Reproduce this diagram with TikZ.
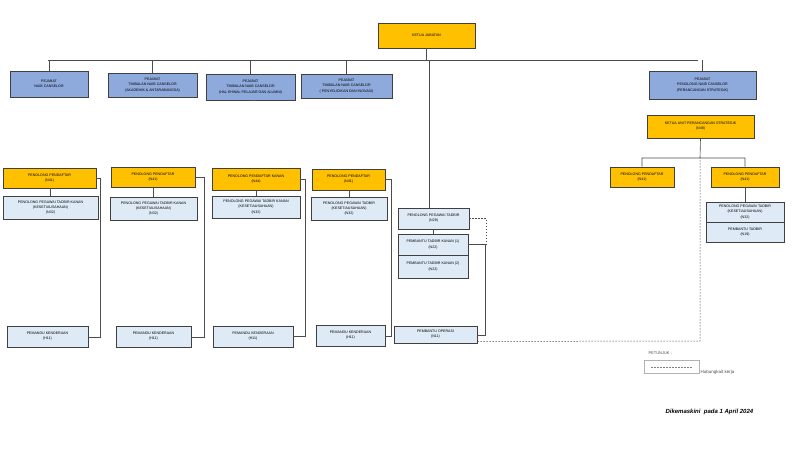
\documentclass[tikz,border=0pt]{standalone}
\usepackage{fontspec}
\setmainfont{Liberation Sans}
\begin{document}
\begin{tikzpicture}[x=1pt,y=-1pt,
 bx/.style={draw=black!75,line width=0.9pt,align=center,inner sep=0pt,font=\fontsize{3.6}{5.2}\selectfont},
 blu/.style={bx,fill={rgb,255:red,142;green,169;blue,219}},
 org/.style={bx,fill={rgb,255:red,255;green,192;blue,0}},
 lbl/.style={bx,fill={rgb,255:red,222;green,234;blue,246}},
 ln/.style={draw=black!70,line width=0.6pt},
 dsh/.style={draw=black!70,line width=0.5pt,dash pattern=on 1.5pt off 1.5pt}]
\useasboundingbox (0,0) rectangle (800,450);
\newcommand{\bxat}[6]{\node[#1,minimum width=#4-#2,minimum height=#5-#3] (#6) at ({(#2+#4)/2},{(#3+#5)/2})}
\bxat{org}{378}{23}{475}{48}{kj} {KETUA JABATAN};
\bxat{blu}{10}{71}{88}{97}{b1} {PEJABAT\\NAIB CANSELOR};
\bxat{blu}{108}{73}{197}{97}{b2} {PEJABAT\\TIMBALAN NAIB CANSELOR\\(AKADEMIK \& ANTARABANGSA)};
\bxat{blu}{206}{74}{295}{100}{b3} {PEJABAT\\TIMBALAN NAIB CANSELOR\\(HAL EHWAL PELAJAR DAN ALUMNI)};
\bxat{blu}{301}{74}{392}{98}{b4} {PEJABAT\\TIMBALAN NAIB CANSELOR\\( PENYELIDIKAN DAN INOVASI)};
\bxat{blu}{649}{71}{756}{99}{b5} {PEJABAT\\PENOLONG NAIB CANSELOR\\(PERANCANGAN STRATEGIK)};
\bxat{org}{647}{115}{754}{138}{ku} {KETUA UNIT PERANCANGAN STRATEGIK\\(N48)};
\bxat{org}{3}{168}{96}{188}{o1} {PENOLONG PENDAFTAR\\(N41)};
\bxat{org}{111}{167}{195}{187}{o2} {PENOLONG PENDAFTAR\\(N41)};
\bxat{org}{212}{168}{300}{190}{o3} {PENOLONG PENDAFTAR KANAN\\(N44)};
\bxat{org}{312}{169}{385}{190}{o4} {PENOLONG PENDAFTAR\\(N41)};
\bxat{org}{610}{167}{674}{187}{o5} {PENOLONG PENDAFTAR\\(N41)};
\bxat{org}{711}{167}{779}{187}{o6} {PENOLONG PENDAFTAR\\(N41)};
\bxat{lbl}{3}{196}{98}{219}{l1} {PENOLONG PEGAWAI TADBIR KANAN\\(KESETIAUSAHAAN)\\(N32)};
\bxat{lbl}{110}{197}{197}{220}{l2} {PENOLONG PEGAWAI TADBIR KANAN\\(KESETIAUSAHAAN)\\(N32)};
\bxat{lbl}{212}{196}{300}{218}{l3} {PENOLONG PEGAWAI TADBIR KANAN\\(KESETIAUSAHAAN)\\(N32)};
\bxat{lbl}{311}{197}{387}{220}{l4} {PENOLONG PEGAWAI TADBIR\\(KESETIAUSAHAAN)\\(N32)};
\bxat{lbl}{398}{208}{469}{229}{n29} {PENOLONG PEGAWAI TADBIR\\(N29)};
\bxat{lbl}{398}{234}{468}{255}{p1} {PEMBANTU TADBIR KANAN (1)\\(N22)};
\bxat{lbl}{398}{255}{468}{278}{p2} {PEMBANTU TADBIR KANAN (2)\\(N22)};
\bxat{lbl}{706}{202}{784}{222}{r1} {PENOLONG PEGAWAI TADBIR\\(KESETIAUSAHAAN)\\(N32)};
\bxat{lbl}{706}{222}{784}{242}{r2} {PEMBANTU TADBIR\\(N19)};
\bxat{lbl}{7}{326}{88}{347}{d1} {PEMANDU KENDERAAN\\(H11)};
\bxat{lbl}{116}{326}{191}{347}{d2} {PEMANDU KENDERAAN\\(H11)};
\bxat{lbl}{213}{326}{293}{347}{d3} {PEMANDU KENDERAAN\\(H11)};
\bxat{lbl}{316}{325}{385}{346}{d4} {PEMANDU KENDERAAN\\(H11)};
\bxat{lbl}{394}{326}{477}{343}{po} {PEMBANTU OPERASI\\(N11)};
% tree
\draw[ln] (kj.south) -- (kj.south|-0,60);
\draw[ln] (48,60) -- (698,60);
\foreach \b in {b1,b2,b3,b4,b5} \draw[ln] (\b.north|-0,60) -- (\b.north);
\draw[ln] (429,60) -- (n29.north-|429,0);
\foreach \a/\b in {b1/o1,b2/o2,b3/o3,b4/o4,b5/ku} \draw[ln] (\a.south) -- (\a.south-|\b.north);
\foreach \a/\b in {o1/l1,o2/l2,o3/l3,o4/l4,o6/r1,n29/p1} \draw[ln] (\a.south-|\b.north) -- (\b.north);
\draw[ln] (ku.south) -- (700,158) (o5.north) |- (o6.north|-0,158) -- (o6.north);
\draw[ln] (o1.east) -| (100,337) -- (d1.east|-0,337);
\draw[ln] (o2.east) -| (204,337) -- (d2.east|-0,337);
\draw[ln] (o3.east) -| (305,336) -- (d3.east|-0,336);
\draw[ln] (o4.east) -| (391,336) -- (d4.east|-0,336);
\draw[ln] (p1.east) -| (485,335) -- (po.east|-0,335);
% dashed
\draw[dsh] (n29.east) -| (486,244);
\draw[dsh] (po.south east) ++(0,-2) -- (700,341) -- (700,158);
% legend
\node[font=\fontsize{4}{5}\selectfont,anchor=west,text=black!70] (pt) at (645,353) {PETUNJUK :};
\node[draw=black!30,minimum width=55,minimum height=13,inner sep=0pt] (lg) at (672,367) {};
\draw[dsh,draw=black!50] ([xshift=7]lg.west) -- ([xshift=-7]lg.east);
\node[font=\fontsize{4.5}{5}\selectfont,anchor=west,text=black!70] (hk) at (697,372) {Hubungkait kerja};
\node[font=\fontsize{6}{7}\selectfont\bfseries\itshape,anchor=west] (dt) at (662,412) {Dikemaskini\ \ pada 1 April 2024};
\end{tikzpicture}
\end{document}
